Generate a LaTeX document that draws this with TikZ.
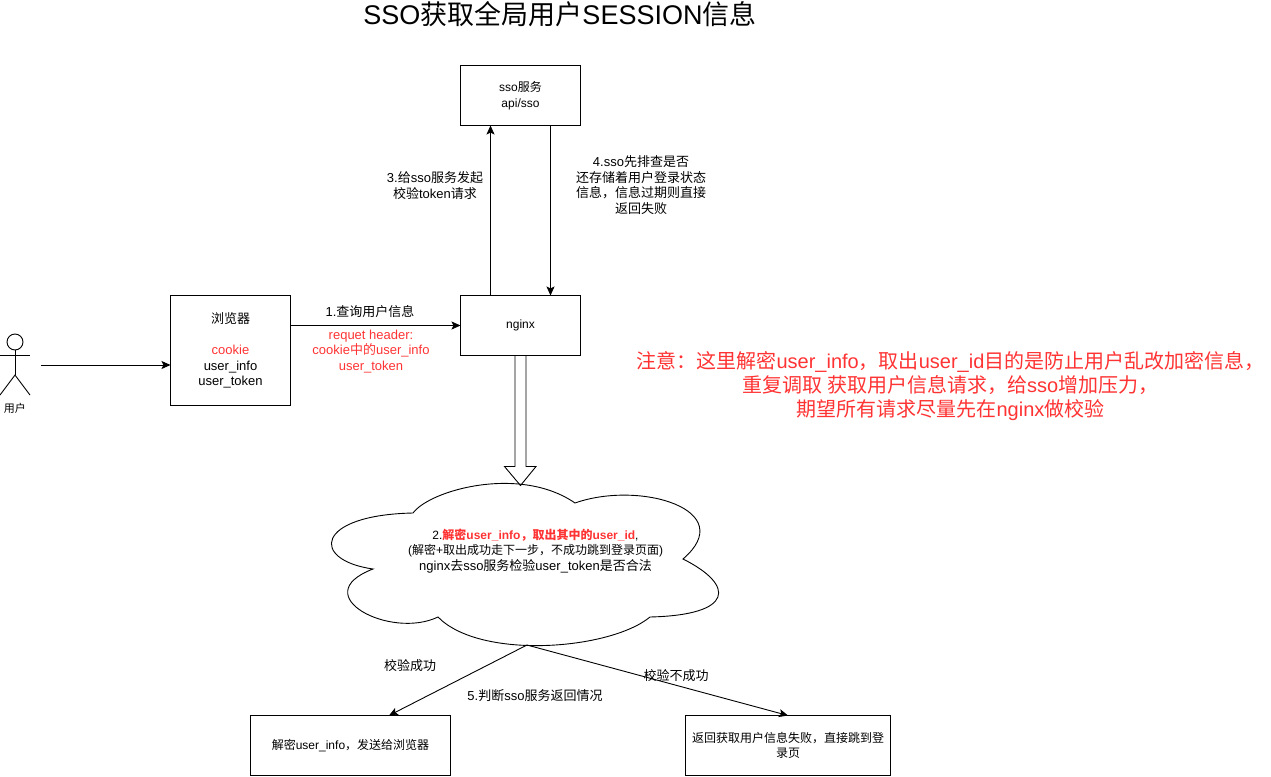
\documentclass[tikz,border=0pt]{standalone}
\usepackage{fontspec}
\setmainfont{Liberation Sans}
\newfontfamily\cjk{Noto Sans CJK SC}
\usetikzlibrary{arrows.meta,positioning,calc}
\definecolor{notered}{HTML}{FF3333}
\newcommand{\zh}[1]{{\cjk #1}}
\newcommand{\rd}[1]{{\color{notered}#1}}
\newcommand{\fc}{\char"FF0C\relax}
\newcommand{\fm}{\char"FF1A\relax}
\newcommand{\sizeA}{\fontsize{12}{15.5}\selectfont}
\newcommand{\sizeB}{\fontsize{13}{15.5}\selectfont}
\tikzset{
  boxnode/.style={draw,line width=.9pt,outer sep=0pt,minimum width=120pt,minimum height=60pt,inner sep=2pt,align=center,font=\sizeA},
  txt/.style={inner sep=0pt,align=center,font=\sizeB},
  flow/.style={line width=.9pt,-{Stealth[length=9pt,width=8pt,inset=2pt]}},
}
\begin{document}
\begin{tikzpicture}[x=1pt,y=-1pt]
      \useasboundingbox (0,0) rectangle (1271,776);
      \node[inner sep=0pt,font=\fontsize{27}{31}\selectfont] at (560,14)(title){SSO\zh{获取全局用户}SESSION\zh{信息}};
      %
      \node[boxnode] at (520.5,95.5)(sso){sso\zh{服务}\\api/sso};
      \node[boxnode,below=170pt of sso](nginx){nginx};
      \node[boxnode,left=170pt of nginx.north west,anchor=north east,minimum height=110pt,font=\sizeB](browser){\zh{浏览器}\\[15.5pt]\rd{cookie}\\user\_info\\user\_token};
      \node[boxnode,minimum width=200pt] at (350.5,745.5)(ok){\zh{解密}user\_info\zh{\fc 发送给浏览器}};
      \node[boxnode,minimum width=205pt] at (788,745.5)(fail){\zh{返回获取用户信息失败\fc 直接跳到登}\\\zh{录页}};
      %
      \node[circle,draw,line width=.9pt,minimum size=16pt,inner sep=0pt] at (15,342)(head){};
      \coordinate (neck) at (15,375);
      \coordinate (armL) at (0,355);
      \coordinate (armR) at (30,355);
      \coordinate (legL) at (0,395);
      \coordinate (legR) at (30,395);
      \node[txt,font=\fontsize{11}{13}\selectfont] at (15,408)(user){\zh{用户}};
      \draw[line width=.9pt] (head) -- (neck);
      \draw[line width=.9pt] (armL) -- (armR);
      \draw[line width=.9pt] (legL) -- (neck) -- (legR);
      \coordinate (userout) at (41,365);
      %
      \coordinate (c1) at (413,513);
      \coordinate (c2) at (575,503);
      \coordinate (c3) at (683,559);
      \coordinate (c4) at (650,617);
      \coordinate (c5) at (438,617);
      \coordinate (c6) at (373,569);
      \draw[line width=.9pt] (c1) .. controls (430,490) and (520,465) .. (c2)
        .. controls (640,480) and (740,510) .. (c3)
        .. controls (735,585) and (735,615) .. (c4)
        .. controls (610,650) and (480,660) .. (c5)
        .. controls (390,640) and (305,595) .. (c6)
        .. controls (310,560) and (315,515) .. (c1) -- cycle;
      \node[txt,font=\sizeA] at (535.5,551)(cloudtext){2.\rd{\bfseries\zh{解密}user\_info\zh{\fc 取出其中的}user\_id},\\(\zh{解密}+\zh{取出成功走下一步\fc 不成功跳到登录页面})\\{\sizeB nginx\zh{去}sso\zh{服务检验}user\_token\zh{是否合法}}};
      \coordinate (cloudbot) at (527,645);
      %
      \draw[line width=.9pt] ($(nginx.south)+(-5.5,0)$) -- ++(0,111) -- ++(-10.5,0) -- ($(nginx.south)+(0,130)$) -- ($(nginx.south)+(15.5,111)$) -- ($(nginx.south)+(5.5,111)$) -- ($(nginx.south)+(5.5,0)$);
      %
      \draw[flow] (userout) -- (browser.west |- userout);
      \draw[flow] (browser.east |- 0,325.5) -- (nginx.west |- 0,325.5);
      \draw[flow] (nginx.north -| 490.5,0) -- (sso.south -| 490.5,0);
      \draw[flow] (sso.south -| 550.5,0) -- (nginx.north -| 550.5,0);
      \draw[flow] (cloudbot) -- (ok.north -| 389,0);
      \draw[flow] (cloudbot) -- (fail.north);
      %
      \node[txt] at (370,312)(q1){1.\zh{查询用户信息}};
      \node[txt] at (371,351.5)(q1b){\rd{requet header:}\\\rd{cookie\zh{中的}user\_info}\\\rd{user\_token}};
      \node[txt] at (435,185.5)(q3){3.\zh{给}sso\zh{服务发起}\\\zh{校验}token\zh{请求}};
      \node[txt] at (641,185)(q4){4.sso\zh{先排查是否}\\\zh{还存储着用户登录状态}\\\zh{信息\fc 信息过期则直接}\\\zh{返回失败}};
      \node[txt] at (410,666)(q5){\zh{校验成功}};
      \node[txt] at (676,676)(q6){\zh{校验不成功}};
      \node[txt] at (535,696)(q7){5.\zh{判断}sso\zh{服务返回情况}};
      \node[txt,font=\fontsize{20}{24}\selectfont,text=notered] at (950.5,386)(note){\zh{注意\fm 这里解密}user\_info\zh{\fc 取出}user\_id\zh{目的是防止用户乱改加密信息\fc}\\\zh{重复调取 获取用户信息请求\fc 给}sso\zh{增加压力\fc}\\\zh{期望所有请求尽量先在}nginx\zh{做校验}};
    \end{tikzpicture}
\end{document}
